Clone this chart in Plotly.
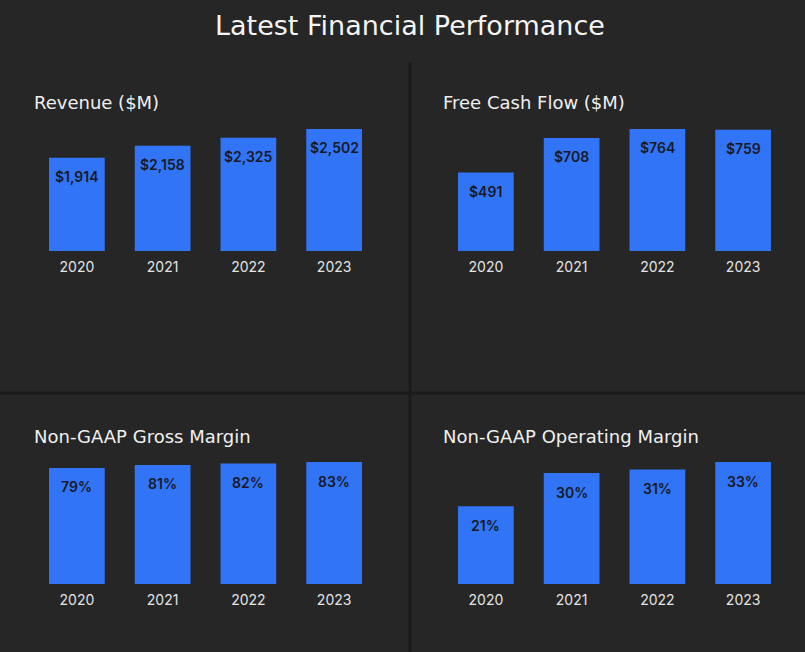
import plotly.graph_objects as go

years = ["2020", "2021", "2022", "2023"]
revenue = [1914, 2158, 2325, 2502]
fcf = [491, 708, 764, 759]
gross_margin = [79, 81, 82, 83]
op_margin = [21, 30, 31, 33]

panels = [
    ("Revenue ($M)", revenue, lambda v: f"${v:,}"),
    ("Free Cash Flow ($M)", fcf, lambda v: f"${v:,}"),
    ("Non-GAAP Gross Margin", gross_margin, lambda v: f"{v}%"),
    ("Non-GAAP Operating Margin", op_margin, lambda v: f"{v}%"),
]

W, H = 805, 652
BG = "#262626"
BAR = "#3274F6"
LINE = "#1a1a1a"
TITLE_FONT = "DejaVu Sans"
BODY_FONT = "Inter"

# pixel layout
xdoms = [(34, 377), (443, 786)]
ydoms = [(129, 251), (462, 584)]
title_y = [103, 436]

fig = go.Figure()
annotations = []
for i, (title, vals, fmt) in enumerate(panels):
    r, c = divmod(i, 2)
    n = i + 1
    xa = "x" if n == 1 else f"x{n}"
    ya = "y" if n == 1 else f"y{n}"
    fig.add_trace(go.Bar(
        x=years, y=vals, marker_color=BAR, marker_line_width=0,
        xaxis=xa, yaxis=ya, hoverinfo="skip", showlegend=False,
    ))
    x0, x1 = xdoms[c]
    y0, y1 = ydoms[r]
    fig.update_layout(**{
        ("xaxis" if n == 1 else f"xaxis{n}"): dict(
            type="category", categoryorder="array", categoryarray=years,
            range=[-0.5, len(years) - 0.5], automargin=False,
            domain=[x0 / W, x1 / W], anchor=ya, showgrid=False, zeroline=False,
            showline=False, ticks="", ticklabelstandoff=6,
            tickfont=dict(color="#e4e4e4", size=14, family=BODY_FONT),
            fixedrange=True),
        ("yaxis" if n == 1 else f"yaxis{n}"): dict(
            domain=[1 - y1 / H, 1 - y0 / H], anchor=xa, range=[0, max(vals)],
            visible=False, fixedrange=True, automargin=False),
    })
    for j, v in enumerate(vals):
        annotations.append(dict(
            x=j, y=v, xref=xa, yref=ya, text=fmt(v), showarrow=False,
            yanchor="middle", yshift=-19,
            font=dict(color="#171a24", size=14, family=BODY_FONT, weight=600)))
    annotations.append(dict(
        x=(x0 - 2) / W, y=1 - title_y[r] / H, xref="paper", yref="paper", text=title,
        showarrow=False, xanchor="left", yanchor="middle",
        font=dict(color="#f0f0f0", size=18, family=TITLE_FONT)))

annotations.append(dict(
    x=410 / W, y=1 - 26 / H, xref="paper", yref="paper", text="Latest Financial Performance",
    showarrow=False, xanchor="center", yanchor="middle",
    font=dict(color="#f5f5f5", size=27, family=TITLE_FONT)))

shapes = [
    dict(type="line", xref="paper", yref="paper", x0=410 / W, x1=410 / W, y0=0, y1=1 - 62 / H,
         line=dict(color=LINE, width=3)),
    dict(type="line", xref="paper", yref="paper", x0=0, x1=1, y0=1 - 393 / H, y1=1 - 393 / H,
         line=dict(color=LINE, width=3)),
]

fig.update_layout(
    width=W, height=H, paper_bgcolor=BG, plot_bgcolor=BG,
    margin=dict(l=0, r=0, t=0, b=0, pad=0), bargap=0.35,
    annotations=annotations, shapes=shapes,
)

fig.write_html(
    "out.html", config={"displayModeBar": False},
    post_script="document.body.style.margin='0';document.body.style.background='#262626';document.body.style.overflow='hidden';",
)
